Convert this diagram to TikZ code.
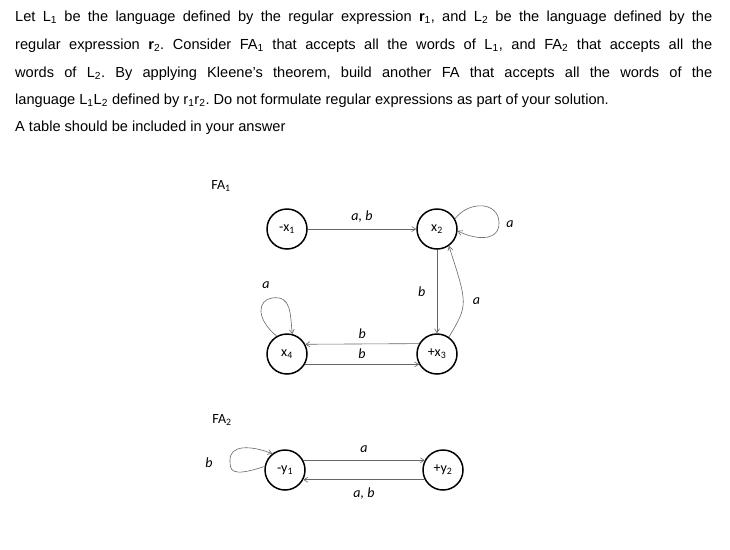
\documentclass[tikz,border=0pt]{standalone}
\usepackage{fontspec}
\setmainfont{Liberation Sans}
\newfontfamily\calfont{Carlito}
\usetikzlibrary{arrows.meta}
\begin{document}
\frenchspacing
\begin{tikzpicture}[x=1pt,y=-1pt,
  st/.style={circle,draw,line width=1.5pt,minimum size=40pt,inner sep=0pt,font=\calfont\fontsize{14}{16}\selectfont},
  tr/.style={draw=black!60,line width=0.6pt,-{Straight Barb[length=4pt,width=5pt]}},
  lb/.style={font=\calfont\itshape\fontsize{14}{16}\selectfont},
  ln/.style={anchor=west,inner sep=0pt,font=\fontsize{14.6}{16}\selectfont}]
\useasboundingbox (0,0) rectangle (730,549);
\node[ln] (l1) at (15,18) {\hbox to 697pt{Let L\textsubscript{1} be the language defined by the regular expression \textbf{r}\textsubscript{1}, and L\textsubscript{2} be the language defined by the}};
\node[ln] (l2) at (15,46) {\hbox to 697pt{regular expression \textbf{r}\textsubscript{2}. Consider FA\textsubscript{1} that accepts all the words of L\textsubscript{1}, and FA\textsubscript{2} that accepts all the}};
\node[ln] (l3) at (15,74) {\hbox to 697pt{words of L\textsubscript{2}. By applying Kleene’s theorem, build another FA that accepts all the words of the}};
\node[ln] (l4) at (15,101) {language L\textsubscript{1}L\textsubscript{2} defined by r\textsubscript{1}r\textsubscript{2}. Do not formulate regular expressions as part of your solution.};
\node[ln] (l5) at (15,128) {A table should be included in your answer};
\node[font=\calfont\fontsize{14}{16}\selectfont] (fa1) at (221,186) {FA\textsubscript{1}};
\node[font=\calfont\fontsize{14}{16}\selectfont] (fa2) at (222,420) {FA\textsubscript{2}};
\node[st] (x1) at (287,229) {-x\textsubscript{1}};
\node[st] (x2) at (437,229) {x\textsubscript{2}};
\node[st] (x4) at (287,354) {x\textsubscript{4}};
\node[st] (x3) at (437,354) {+x\textsubscript{3}};
\node[st] (y1) at (285,470) {-y\textsubscript{1}};
\node[st] (y2) at (443,470) {+y\textsubscript{2}};
\draw[tr] (x1) -- node[lb,above=3pt] {a, b} (x2);
\draw[tr] (x2) -- node[lb,left=8pt] {b} (x3);
\draw[tr] (x3.55) .. controls (468,305) .. node[lb,right=6pt] {a} (x2.-55);
\draw[tr] (x2.30) .. controls (470,200) and (498,202) .. (499,222) .. controls (500,242) and (475,240) .. (x2.-5) ;
\node[lb] (la2) at (510,224) {a};
\draw[tr] (x3.150) -- node[lb,above=2pt] {b} (x4.28);
\draw[tr] (x4.-30) -- node[lb,above=2pt] {b} (x3.-150);
\draw[tr] (x4.120) .. controls (255,318) and (258,300) .. (272,298) .. controls (292,295) and (290,315) .. (x4.75);
\node[lb] (la4) at (266,285) {a};
\draw[tr] (y1.28) -- node[lb,above=4pt] {a} (y2.152);
\draw[tr] (y2.-152) -- node[lb,below=4pt] {a, b} (y1.-28);
\draw[tr] (y1.170) .. controls (230,478) and (230,470) .. (230,460) .. controls (230,445) and (250,445) .. (y1.128);
\node[lb] (lb1) at (209,463) {b};
\end{tikzpicture}
\end{document}
